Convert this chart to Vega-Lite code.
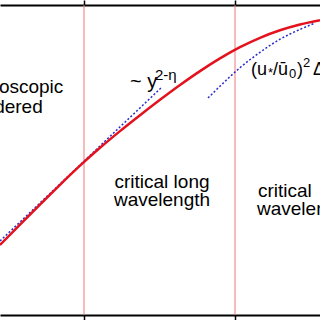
{
  "$schema": "https://vega.github.io/schema/vega-lite/v6.json",
  "width": 320,
  "height": 310,
  "autosize": {"type": "none"},
  "padding": {"left": 0, "right": 0, "top": 5, "bottom": 5},
  "background": "white",
  "config": {"view": {"stroke": null}, "text": {"font": "Liberation Sans", "fill": "black"}},
  "datasets": {
    "regions": [{"x": 84}, {"x": 235}],
    "curve": [
      {"x": 0, "v": 70}, {"x": 20, "v": 90.3}, {"x": 40, "v": 110.4}, {"x": 60, "v": 130.2},
      {"x": 80, "v": 149.3}, {"x": 100, "v": 167.2}, {"x": 120, "v": 183.9}, {"x": 140, "v": 199.8},
      {"x": 160, "v": 215.2}, {"x": 180, "v": 230}, {"x": 200, "v": 243.9}, {"x": 220, "v": 256.6},
      {"x": 240, "v": 267.8}, {"x": 260, "v": 277.2}, {"x": 280, "v": 284.7}, {"x": 300, "v": 290.5},
      {"x": 320, "v": 294.8}
    ],
    "asym1": [{"x": 0, "v": 74}, {"x": 162, "v": 228}],
    "asym2": [
      {"x": 208, "v": 217}, {"x": 220, "v": 228.8}, {"x": 240, "v": 247.3}, {"x": 260, "v": 262.7},
      {"x": 280, "v": 275.8}, {"x": 300, "v": 285.6}, {"x": 314, "v": 291.5}
    ],
    "centered": [
      {"x": 10, "v": 222, "t": "Macroscopic"},
      {"x": 10, "v": 202, "t": "ordered"},
      {"x": 162, "v": 127, "t": "critical long"},
      {"x": 162, "v": 109, "t": "wavelength"}
    ],
    "leftText": [
      {"x": 258, "v": 118, "t": "critical"},
      {"x": 257, "v": 100, "t": "wavelength"}
    ],
    "bigY": [
      {"x": 130, "v": 227, "t": "~ y"}
    ],
    "formula": [
      {"x": 251, "v": 240, "t": "(u"},
      {"x": 273, "v": 240, "t": "/ū"},
      {"x": 297, "v": 240, "t": ")"},
      {"x": 313, "v": 240, "t": "Δ"}
    ],
    "bigSup": [
      {"x": 155, "v": 235, "t": "2-η"}
    ],
    "small": [
      {"x": 268, "v": 238, "t": "*"},
      {"x": 289, "v": 237, "t": "0"},
      {"x": 303, "v": 248, "t": "2"}
    ]
  },
  "resolve": {"axis": {"x": "independent"}},
  "layer": [
    {
      "data": {"name": "regions"},
      "mark": {"type": "rule", "color": "#ee7b7b", "strokeWidth": 1},
      "encoding": {
        "x": {"field": "x", "type": "quantitative", "scale": {"domain": [0, 320], "nice": false, "zero": false},
          "axis": {"orient": "bottom", "values": [84, 235], "labels": false, "title": null, "grid": false,
            "domainColor": "black", "domainWidth": 2, "tickColor": "black", "tickSize": 5, "tickWidth": 1.5}}
      }
    },
    {
      "data": {"name": "regions"},
      "mark": {"type": "rule", "opacity": 0},
      "encoding": {
        "x": {"field": "x", "type": "quantitative",
          "axis": {"orient": "top", "values": [84, 235], "labels": false, "title": null, "grid": false,
            "domainColor": "black", "domainWidth": 2, "tickColor": "black", "tickSize": 5, "tickWidth": 1.5}}
      }
    },
    {
      "data": {"name": "asym1"},
      "mark": {"type": "line", "color": "#2b2bc8", "strokeWidth": 1.5, "strokeDash": [2, 2]},
      "encoding": {
        "x": {"field": "x", "type": "quantitative", "axis": null},
        "y": {"field": "v", "type": "quantitative", "scale": {"domain": [0, 310], "nice": false, "zero": false}, "axis": null}
      }
    },
    {
      "data": {"name": "asym2"},
      "mark": {"type": "line", "color": "#2b2bc8", "strokeWidth": 1.5, "strokeDash": [2, 2], "interpolate": "monotone"},
      "encoding": {
        "x": {"field": "x", "type": "quantitative", "axis": null},
        "y": {"field": "v", "type": "quantitative", "axis": null}
      }
    },
    {
      "data": {"name": "curve"},
      "mark": {"type": "line", "color": "#e3121e", "strokeWidth": 2.5, "interpolate": "monotone"},
      "encoding": {
        "x": {"field": "x", "type": "quantitative", "axis": null},
        "y": {"field": "v", "type": "quantitative", "axis": null}
      }
    },
    {
      "data": {"name": "centered"},
      "mark": {"type": "text", "fontSize": 19, "align": "center", "baseline": "alphabetic"},
      "encoding": {
        "x": {"field": "x", "type": "quantitative", "axis": null},
        "y": {"field": "v", "type": "quantitative", "axis": null},
        "text": {"field": "t"}
      }
    },
    {
      "data": {"name": "leftText"},
      "mark": {"type": "text", "fontSize": 19, "align": "left", "baseline": "alphabetic"},
      "encoding": {
        "x": {"field": "x", "type": "quantitative", "axis": null},
        "y": {"field": "v", "type": "quantitative", "axis": null},
        "text": {"field": "t"}
      }
    },
    {
      "data": {"name": "bigY"},
      "mark": {"type": "text", "fontSize": 20, "align": "left", "baseline": "alphabetic"},
      "encoding": {
        "x": {"field": "x", "type": "quantitative", "axis": null},
        "y": {"field": "v", "type": "quantitative", "axis": null},
        "text": {"field": "t"}
      }
    },
    {
      "data": {"name": "formula"},
      "mark": {"type": "text", "fontSize": 18, "align": "left", "baseline": "alphabetic"},
      "encoding": {
        "x": {"field": "x", "type": "quantitative", "axis": null},
        "y": {"field": "v", "type": "quantitative", "axis": null},
        "text": {"field": "t"}
      }
    },
    {
      "data": {"name": "bigSup"},
      "mark": {"type": "text", "fontSize": 15, "align": "left", "baseline": "alphabetic"},
      "encoding": {
        "x": {"field": "x", "type": "quantitative", "axis": null},
        "y": {"field": "v", "type": "quantitative", "axis": null},
        "text": {"field": "t"}
      }
    },
    {
      "data": {"name": "small"},
      "mark": {"type": "text", "fontSize": 13, "align": "left", "baseline": "alphabetic"},
      "encoding": {
        "x": {"field": "x", "type": "quantitative", "axis": null},
        "y": {"field": "v", "type": "quantitative", "axis": null},
        "text": {"field": "t"}
      }
    }
  ]
}
